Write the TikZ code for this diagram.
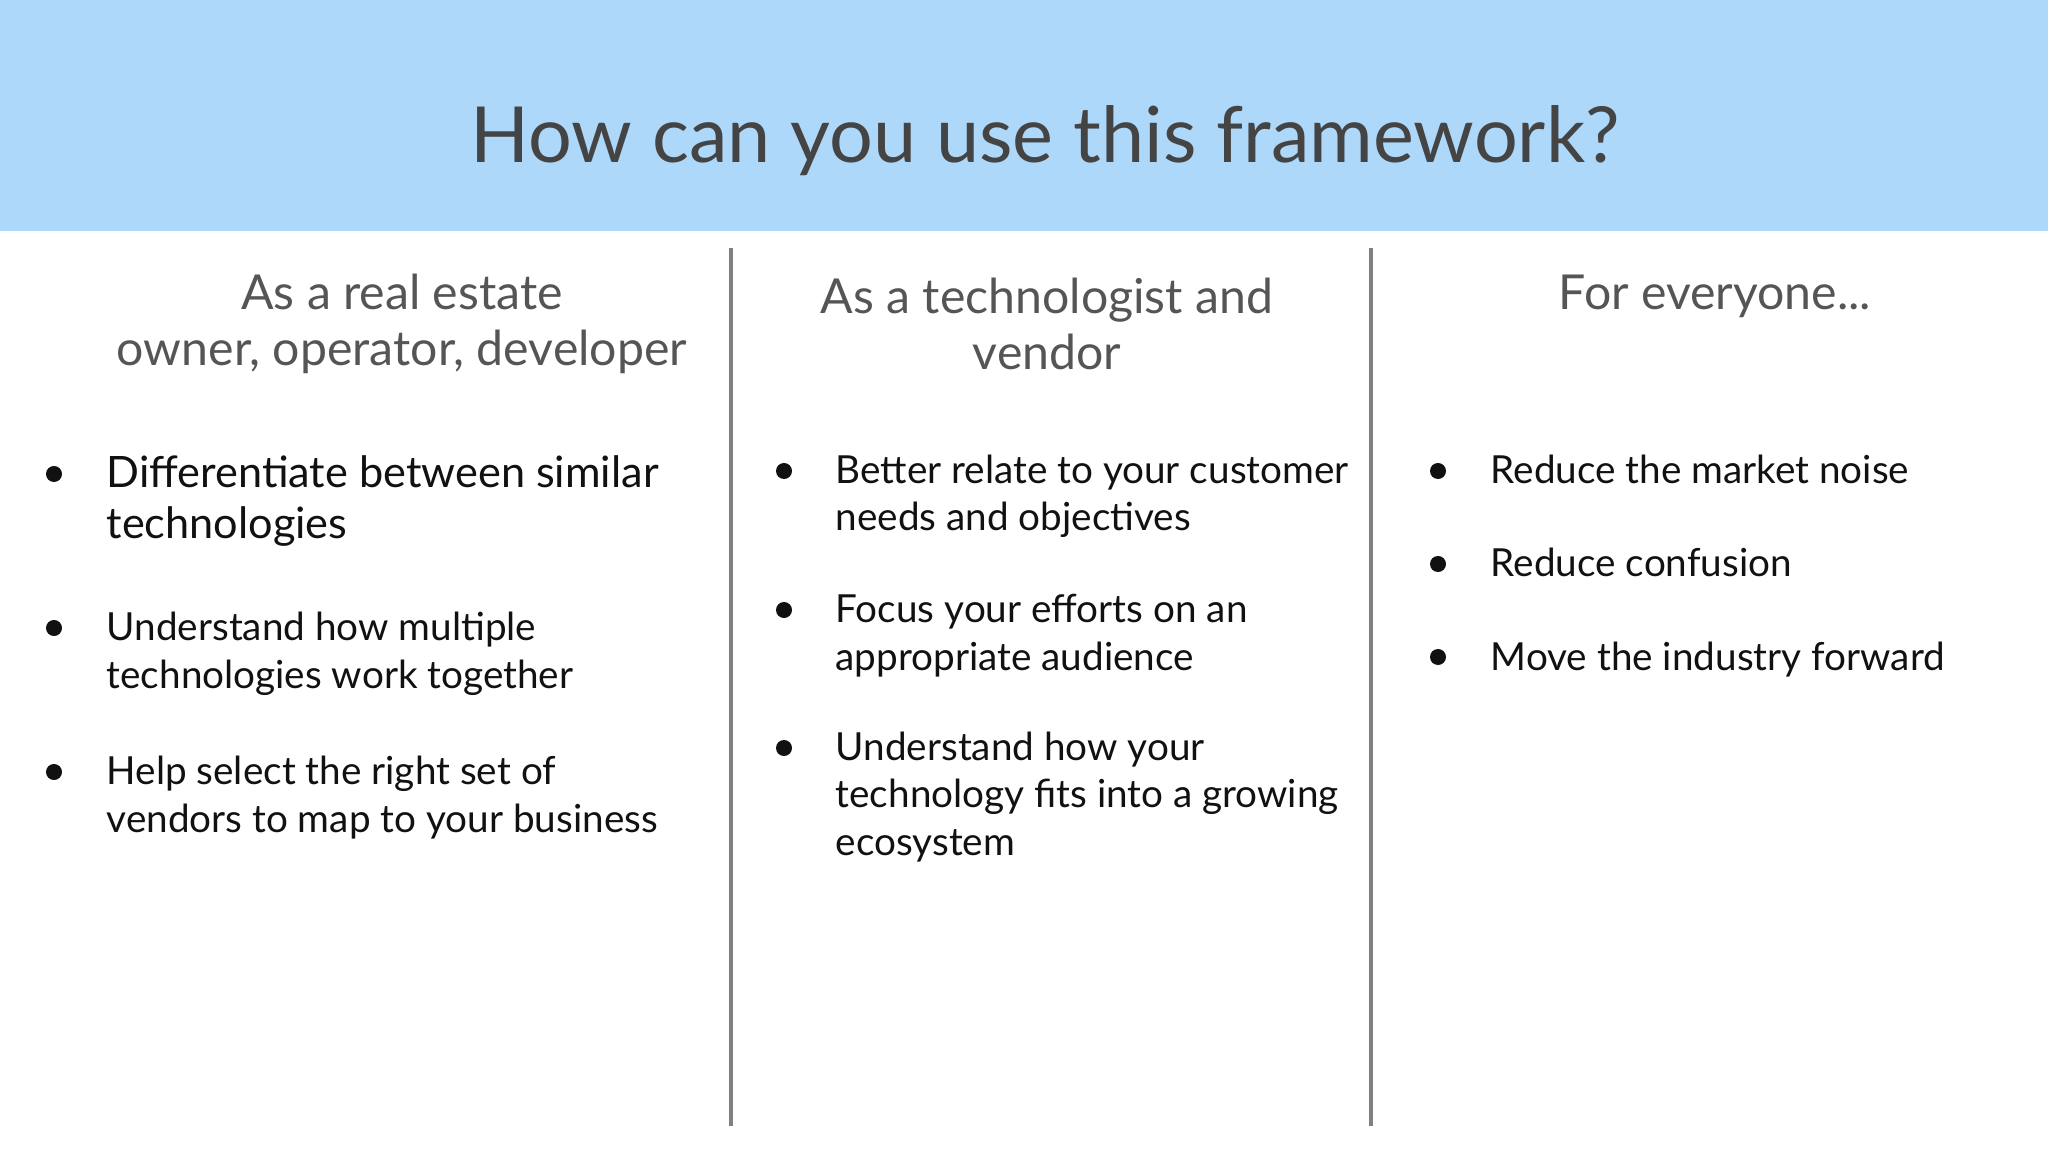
\documentclass[tikz,border=0pt]{standalone}
\usepackage{fontspec}
\setmainfont{Lato}
\definecolor{band}{HTML}{ADD8FA}
\definecolor{hdr}{HTML}{555555}
\definecolor{ttl}{HTML}{444444}
\definecolor{body}{HTML}{111111}
\begin{document}
\begin{tikzpicture}[x=0.01cm,y=-0.01cm,
  hd/.style={inner sep=0,text=hdr,align=center,font=\fontsize{13.7pt}{16pt}\selectfont,anchor=base},
  item/.style={inner sep=0,text=body,align=left,anchor=base west,font=\fontsize{11pt}{13.4pt}\selectfont},
  dot/.style={circle,fill=body,inner sep=0,minimum size=0.16cm}]
\useasboundingbox (0,0) rectangle (2048,1152);
\fill[band] (0,0) rectangle (2048,231);
\node[inner sep=0,anchor=base,text=ttl,font=\fontsize{22pt}{26pt}\selectfont] (title) at (1045,163) {How can you use this framework?};
\coordinate (d1t) at (731,248); \coordinate (d1b) at (731,1126);
\coordinate (d2t) at (1371,248); \coordinate (d2b) at (1371,1126);
\draw[gray,line width=1pt] (d1t) -- (d1b);
\draw[gray,line width=1pt] (d2t) -- (d2b);
\node[hd] (h1) at (402,366) {As a real estate\\owner, operator, developer};
\node[hd] (h2) at (1047,370) {As a technologist and\\vendor};
\node[hd] (h3) at (1715,310) {For everyone...};
% column 1
\node[dot] (b11) at (54,474) {};
\node[item,font=\fontsize{12.3pt}{14.6pt}\selectfont] (t11) at (106,539) {Differentiate between similar\\technologies};
\node[dot] (b12) at (54,628) {};
\node[item] (t12) at (106,688) {Understand how multiple\\technologies work together};
\node[dot] (b13) at (54,772) {};
\node[item] (t13) at (106,832) {Help select the right set of\\vendors to map to your business};
% column 2
\node[dot] (b21) at (784,471) {};
\node[item] (t21) at (835,531) {Better relate to your customer\\needs and objectives};
\node[dot] (b22) at (784,610) {};
\node[item] (t22) at (835,670) {Focus your efforts on an\\appropriate audience};
\node[dot] (b23) at (784,748) {};
\node[item] (t23) at (835,855) {Understand how your\\technology fits into a growing\\ecosystem};
% column 3
\node[dot] (b31) at (1438,471) {};
\node[item] (t31) at (1490,484) {Reduce the market noise};
\node[dot] (b32) at (1438,564) {};
\node[item] (t32) at (1490,577) {Reduce confusion};
\node[dot] (b33) at (1438,657) {};
\node[item] (t33) at (1490,670) {Move the industry forward};
\end{tikzpicture}
\end{document}
